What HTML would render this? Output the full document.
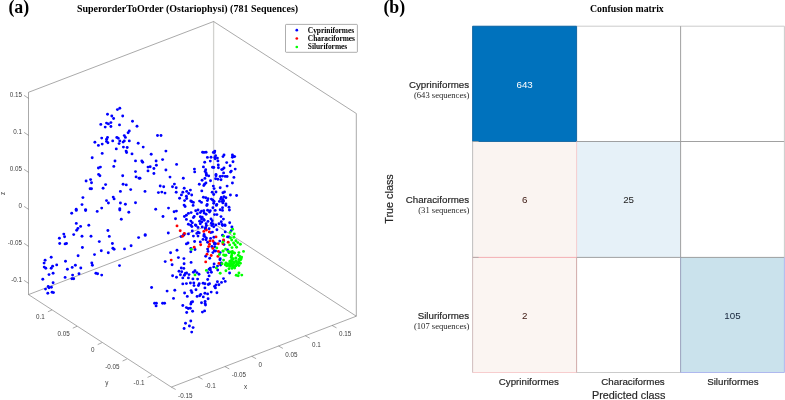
<!DOCTYPE html>
<html><head><meta charset="utf-8"><title>Figure</title>
<style>html,body{margin:0;padding:0;background:#fff}svg{display:block}.sans{font-family:"Liberation Sans",Arial,Helvetica,sans-serif}.serif{font-family:"Liberation Serif","Times New Roman",serif}.tk{font-size:6.3px;fill:#404040}.hv{stroke:#262626;stroke-width:0.18px}.b{font-weight:bold}</style></head><body>
<svg width="785" height="400" viewBox="0 0 785 400">
<rect width="785" height="400" fill="#fff"/>
<line x1="213.6" y1="21.5" x2="213.6" y2="223.5" stroke="#d2d2cf" stroke-width="1.3"/>
<line x1="28.5" y1="294.6" x2="213.6" y2="223.5" stroke="#555" stroke-width="0.5"/>
<line x1="213.6" y1="223.5" x2="356.3" y2="316.2" stroke="#555" stroke-width="0.5"/>
<line x1="28.5" y1="92.3" x2="213.6" y2="21.5" stroke="#555" stroke-width="0.5"/>
<line x1="213.6" y1="21.5" x2="356.3" y2="113.5" stroke="#555" stroke-width="0.5"/>
<line x1="28.5" y1="92.3" x2="28.5" y2="294.6" stroke="#555" stroke-width="0.5"/>
<line x1="356.3" y1="113.5" x2="356.3" y2="316.2" stroke="#555" stroke-width="0.5"/>
<line x1="28.5" y1="294.6" x2="171.3" y2="387.1" stroke="#555" stroke-width="0.5"/>
<line x1="171.3" y1="387.1" x2="356.3" y2="316.2" stroke="#555" stroke-width="0.5"/>
<line x1="28.5" y1="98.3" x2="24.1" y2="95.39999999999999" stroke="#555" stroke-width="0.5"/>
<text class="sans tk" x="22.1" y="96.9" text-anchor="end">0.15</text>
<line x1="28.5" y1="135.3" x2="24.1" y2="132.4" stroke="#555" stroke-width="0.5"/>
<text class="sans tk" x="22.1" y="133.9" text-anchor="end">0.1</text>
<line x1="28.5" y1="172.3" x2="24.1" y2="169.4" stroke="#555" stroke-width="0.5"/>
<text class="sans tk" x="22.1" y="170.9" text-anchor="end">0.05</text>
<line x1="28.5" y1="209.3" x2="24.1" y2="206.4" stroke="#555" stroke-width="0.5"/>
<text class="sans tk" x="22.1" y="207.9" text-anchor="end">0</text>
<line x1="28.5" y1="246.3" x2="24.1" y2="243.4" stroke="#555" stroke-width="0.5"/>
<text class="sans tk" x="22.1" y="244.9" text-anchor="end">-0.05</text>
<line x1="28.5" y1="283.3" x2="24.1" y2="280.40000000000003" stroke="#555" stroke-width="0.5"/>
<text class="sans tk" x="22.1" y="281.9" text-anchor="end">-0.1</text>
<text class="sans tk" transform="translate(4.5,193.5) rotate(-90)" text-anchor="middle">z</text>
<line x1="52.1" y1="309.9" x2="47.9" y2="311.79999999999995" stroke="#555" stroke-width="0.5"/>
<text class="sans tk" x="44.8" y="319.4" text-anchor="end">0.1</text>
<line x1="77.0" y1="326.29999999999995" x2="72.8" y2="328.19999999999993" stroke="#555" stroke-width="0.5"/>
<text class="sans tk" x="69.7" y="335.8" text-anchor="end">0.05</text>
<line x1="101.9" y1="342.7" x2="97.7" y2="344.59999999999997" stroke="#555" stroke-width="0.5"/>
<text class="sans tk" x="94.6" y="352.2" text-anchor="end">0</text>
<line x1="126.79999999999998" y1="359.09999999999997" x2="122.59999999999998" y2="360.99999999999994" stroke="#555" stroke-width="0.5"/>
<text class="sans tk" x="119.5" y="368.6" text-anchor="end">-0.05</text>
<line x1="151.7" y1="375.5" x2="147.5" y2="377.4" stroke="#555" stroke-width="0.5"/>
<text class="sans tk" x="144.4" y="385.0" text-anchor="end">-0.1</text>
<text class="sans tk" x="106.8" y="384.5" text-anchor="middle">y</text>
<line x1="171.3" y1="387.1" x2="175.70000000000002" y2="389.5" stroke="#555" stroke-width="0.5"/>
<text class="sans tk" x="178.1" y="397.9">-0.15</text>
<line x1="198.10000000000002" y1="376.83000000000004" x2="202.50000000000003" y2="379.23" stroke="#555" stroke-width="0.5"/>
<text class="sans tk" x="204.9" y="387.6">-0.1</text>
<line x1="224.9" y1="366.56" x2="229.3" y2="368.96" stroke="#555" stroke-width="0.5"/>
<text class="sans tk" x="231.7" y="377.4">-0.05</text>
<line x1="251.70000000000002" y1="356.29" x2="256.1" y2="358.69" stroke="#555" stroke-width="0.5"/>
<text class="sans tk" x="258.5" y="367.1">0</text>
<line x1="278.5" y1="346.02000000000004" x2="282.9" y2="348.42" stroke="#555" stroke-width="0.5"/>
<text class="sans tk" x="285.3" y="356.8">0.05</text>
<line x1="305.3" y1="335.75" x2="309.7" y2="338.15" stroke="#555" stroke-width="0.5"/>
<text class="sans tk" x="312.1" y="346.6">0.1</text>
<line x1="332.1" y1="325.48" x2="336.5" y2="327.88" stroke="#555" stroke-width="0.5"/>
<text class="sans tk" x="338.9" y="336.3">0.15</text>
<text class="sans tk" x="245.6" y="389.4" text-anchor="middle">x</text>
<g fill="#0000ff"><circle cx="117.4" cy="109.6" r="1.45"/><circle cx="119.8" cy="108.3" r="1.45"/><circle cx="107.5" cy="114.2" r="1.45"/><circle cx="111.8" cy="116.0" r="1.45"/><circle cx="113.6" cy="118.5" r="1.45"/><circle cx="122.7" cy="116.0" r="1.45"/><circle cx="132.5" cy="121.2" r="1.45"/><circle cx="137.0" cy="126.2" r="1.45"/><circle cx="100.8" cy="124.4" r="1.45"/><circle cx="106.5" cy="123.1" r="1.45"/><circle cx="108.4" cy="123.9" r="1.45"/><circle cx="110.9" cy="122.6" r="1.45"/><circle cx="105.2" cy="127.1" r="1.45"/><circle cx="110.9" cy="126.5" r="1.45"/><circle cx="119.5" cy="124.9" r="1.45"/><circle cx="129.3" cy="131.0" r="1.45"/><circle cx="128.1" cy="132.8" r="1.45"/><circle cx="124.3" cy="135.6" r="1.45"/><circle cx="125.4" cy="137.4" r="1.45"/><circle cx="116.8" cy="137.4" r="1.45"/><circle cx="118.2" cy="138.3" r="1.45"/><circle cx="107.5" cy="137.4" r="1.45"/><circle cx="101.7" cy="138.1" r="1.45"/><circle cx="106.6" cy="139.2" r="1.45"/><circle cx="94.9" cy="142.3" r="1.45"/><circle cx="98.4" cy="145.4" r="1.45"/><circle cx="102.2" cy="144.1" r="1.45"/><circle cx="106.5" cy="141.4" r="1.45"/><circle cx="107.9" cy="142.7" r="1.45"/><circle cx="112.7" cy="140.9" r="1.45"/><circle cx="119.1" cy="143.6" r="1.45"/><circle cx="119.8" cy="140.9" r="1.45"/><circle cx="123.1" cy="142.1" r="1.45"/><circle cx="124.3" cy="140.9" r="1.45"/><circle cx="129.3" cy="140.9" r="1.45"/><circle cx="138.2" cy="143.2" r="1.45"/><circle cx="116.3" cy="148.9" r="1.45"/><circle cx="123.4" cy="147.1" r="1.45"/><circle cx="127.2" cy="147.5" r="1.45"/><circle cx="126.1" cy="151.1" r="1.45"/><circle cx="126.6" cy="152.5" r="1.45"/><circle cx="132.0" cy="153.9" r="1.45"/><circle cx="102.2" cy="153.4" r="1.45"/><circle cx="92.2" cy="157.8" r="1.45"/><circle cx="115.0" cy="161.0" r="1.45"/><circle cx="135.5" cy="160.9" r="1.45"/><circle cx="113.8" cy="166.4" r="1.45"/><circle cx="98.4" cy="168.0" r="1.45"/><circle cx="100.4" cy="167.1" r="1.45"/><circle cx="135.5" cy="171.6" r="1.45"/><circle cx="98.6" cy="174.4" r="1.45"/><circle cx="99.9" cy="175.7" r="1.45"/><circle cx="122.7" cy="175.7" r="1.45"/><circle cx="136.1" cy="176.9" r="1.45"/><circle cx="139.1" cy="178.3" r="1.45"/><circle cx="86.1" cy="181.0" r="1.45"/><circle cx="90.6" cy="179.6" r="1.45"/><circle cx="91.5" cy="182.8" r="1.45"/><circle cx="105.6" cy="184.6" r="1.45"/><circle cx="123.1" cy="184.2" r="1.45"/><circle cx="126.3" cy="184.9" r="1.45"/><circle cx="90.1" cy="188.7" r="1.45"/><circle cx="91.5" cy="188.7" r="1.45"/><circle cx="103.1" cy="188.2" r="1.45"/><circle cx="130.7" cy="189.6" r="1.45"/><circle cx="120.4" cy="191.4" r="1.45"/><circle cx="82.9" cy="197.6" r="1.45"/><circle cx="113.2" cy="197.1" r="1.45"/><circle cx="114.1" cy="198.9" r="1.45"/><circle cx="106.5" cy="200.6" r="1.45"/><circle cx="108.4" cy="203.0" r="1.45"/><circle cx="120.4" cy="203.0" r="1.45"/><circle cx="125.4" cy="204.2" r="1.45"/><circle cx="135.5" cy="202.8" r="1.45"/><circle cx="82.0" cy="204.6" r="1.45"/><circle cx="76.2" cy="209.2" r="1.45"/><circle cx="85.6" cy="209.6" r="1.45"/><circle cx="101.7" cy="208.1" r="1.45"/><circle cx="119.8" cy="208.7" r="1.45"/><circle cx="71.7" cy="213.2" r="1.45"/><circle cx="76.3" cy="210.4" r="1.45"/><circle cx="85.6" cy="210.5" r="1.45"/><circle cx="97.2" cy="211.4" r="1.45"/><circle cx="119.8" cy="210.0" r="1.45"/><circle cx="128.8" cy="212.3" r="1.45"/><circle cx="121.3" cy="219.3" r="1.45"/><circle cx="76.3" cy="223.4" r="1.45"/><circle cx="80.6" cy="226.4" r="1.45"/><circle cx="88.8" cy="225.2" r="1.45"/><circle cx="77.9" cy="228.4" r="1.45"/><circle cx="76.7" cy="230.2" r="1.45"/><circle cx="107.9" cy="230.5" r="1.45"/><circle cx="63.8" cy="234.1" r="1.45"/><circle cx="64.6" cy="236.8" r="1.45"/><circle cx="73.7" cy="234.6" r="1.45"/><circle cx="82.0" cy="236.2" r="1.45"/><circle cx="91.0" cy="236.2" r="1.45"/><circle cx="109.3" cy="236.4" r="1.45"/><circle cx="59.4" cy="238.2" r="1.45"/><circle cx="138.6" cy="237.6" r="1.45"/><circle cx="59.7" cy="243.5" r="1.45"/><circle cx="65.1" cy="243.9" r="1.45"/><circle cx="66.5" cy="243.5" r="1.45"/><circle cx="99.3" cy="241.6" r="1.45"/><circle cx="112.4" cy="243.5" r="1.45"/><circle cx="82.4" cy="247.5" r="1.45"/><circle cx="131.1" cy="245.7" r="1.45"/><circle cx="112.9" cy="248.3" r="1.45"/><circle cx="114.1" cy="249.2" r="1.45"/><circle cx="124.5" cy="248.9" r="1.45"/><circle cx="101.3" cy="250.7" r="1.45"/><circle cx="108.3" cy="252.8" r="1.45"/><circle cx="94.5" cy="254.6" r="1.45"/><circle cx="78.1" cy="255.8" r="1.45"/><circle cx="51.2" cy="257.3" r="1.45"/><circle cx="45.1" cy="260.3" r="1.45"/><circle cx="44.1" cy="263.1" r="1.45"/><circle cx="65.5" cy="261.2" r="1.45"/><circle cx="56.7" cy="264.9" r="1.45"/><circle cx="75.4" cy="265.3" r="1.45"/><circle cx="91.8" cy="263.0" r="1.45"/><circle cx="92.4" cy="265.3" r="1.45"/><circle cx="119.5" cy="265.6" r="1.45"/><circle cx="52.6" cy="266.2" r="1.45"/><circle cx="51.2" cy="268.3" r="1.45"/><circle cx="44.2" cy="267.1" r="1.45"/><circle cx="45.8" cy="268.3" r="1.45"/><circle cx="72.2" cy="267.4" r="1.45"/><circle cx="67.4" cy="269.2" r="1.45"/><circle cx="80.8" cy="268.0" r="1.45"/><circle cx="49.0" cy="274.6" r="1.45"/><circle cx="53.1" cy="273.3" r="1.45"/><circle cx="72.6" cy="275.1" r="1.45"/><circle cx="79.0" cy="273.8" r="1.45"/><circle cx="95.9" cy="273.3" r="1.45"/><circle cx="97.6" cy="273.8" r="1.45"/><circle cx="101.7" cy="275.1" r="1.45"/><circle cx="65.1" cy="277.4" r="1.45"/><circle cx="42.8" cy="279.2" r="1.45"/><circle cx="71.9" cy="278.7" r="1.45"/><circle cx="73.7" cy="278.7" r="1.45"/><circle cx="53.1" cy="282.8" r="1.45"/><circle cx="45.5" cy="289.1" r="1.45"/><circle cx="48.2" cy="286.4" r="1.45"/><circle cx="49.0" cy="287.8" r="1.45"/><circle cx="51.4" cy="287.3" r="1.45"/><circle cx="47.8" cy="293.2" r="1.45"/><circle cx="52.1" cy="292.3" r="1.45"/><circle cx="53.5" cy="292.6" r="1.45"/><circle cx="157.5" cy="135.5" r="1.45"/><circle cx="161.0" cy="135.5" r="1.45"/><circle cx="143.2" cy="147.1" r="1.45"/><circle cx="151.2" cy="154.3" r="1.45"/><circle cx="165.9" cy="151.1" r="1.45"/><circle cx="141.8" cy="161.0" r="1.45"/><circle cx="142.7" cy="162.3" r="1.45"/><circle cx="156.1" cy="161.0" r="1.45"/><circle cx="162.6" cy="159.6" r="1.45"/><circle cx="156.4" cy="165.3" r="1.45"/><circle cx="176.6" cy="164.4" r="1.45"/><circle cx="148.0" cy="167.1" r="1.45"/><circle cx="150.2" cy="166.8" r="1.45"/><circle cx="153.9" cy="168.5" r="1.45"/><circle cx="148.0" cy="170.9" r="1.45"/><circle cx="165.9" cy="170.0" r="1.45"/><circle cx="153.9" cy="173.5" r="1.45"/><circle cx="140.0" cy="178.3" r="1.45"/><circle cx="170.0" cy="177.1" r="1.45"/><circle cx="183.3" cy="178.3" r="1.45"/><circle cx="160.2" cy="186.0" r="1.45"/><circle cx="163.7" cy="186.7" r="1.45"/><circle cx="174.4" cy="184.1" r="1.45"/><circle cx="172.5" cy="186.7" r="1.45"/><circle cx="176.2" cy="187.8" r="1.45"/><circle cx="145.0" cy="191.4" r="1.45"/><circle cx="158.4" cy="192.6" r="1.45"/><circle cx="161.8" cy="192.1" r="1.45"/><circle cx="165.0" cy="193.1" r="1.45"/><circle cx="176.2" cy="192.3" r="1.45"/><circle cx="184.2" cy="188.2" r="1.45"/><circle cx="182.8" cy="192.3" r="1.45"/><circle cx="186.7" cy="191.4" r="1.45"/><circle cx="188.7" cy="193.5" r="1.45"/><circle cx="181.4" cy="194.9" r="1.45"/><circle cx="186.4" cy="196.2" r="1.45"/><circle cx="179.6" cy="198.3" r="1.45"/><circle cx="186.7" cy="198.5" r="1.45"/><circle cx="184.6" cy="200.6" r="1.45"/><circle cx="184.1" cy="205.1" r="1.45"/><circle cx="185.1" cy="206.5" r="1.45"/><circle cx="168.5" cy="208.1" r="1.45"/><circle cx="155.7" cy="209.2" r="1.45"/><circle cx="202.6" cy="152.3" r="1.45"/><circle cx="204.1" cy="152.4" r="1.45"/><circle cx="206.1" cy="152.3" r="1.45"/><circle cx="213.3" cy="152.4" r="1.45"/><circle cx="214.8" cy="151.1" r="1.45"/><circle cx="214.5" cy="152.6" r="1.45"/><circle cx="224.0" cy="154.9" r="1.45"/><circle cx="223.0" cy="156.6" r="1.45"/><circle cx="232.4" cy="154.9" r="1.45"/><circle cx="233.6" cy="156.5" r="1.45"/><circle cx="232.4" cy="157.2" r="1.45"/><circle cx="234.7" cy="156.6" r="1.45"/><circle cx="207.4" cy="157.4" r="1.45"/><circle cx="211.0" cy="157.2" r="1.45"/><circle cx="215.6" cy="155.7" r="1.45"/><circle cx="214.8" cy="157.4" r="1.45"/><circle cx="215.2" cy="158.8" r="1.45"/><circle cx="217.4" cy="158.1" r="1.45"/><circle cx="217.9" cy="160.9" r="1.45"/><circle cx="210.3" cy="161.1" r="1.45"/><circle cx="204.7" cy="162.2" r="1.45"/><circle cx="226.7" cy="162.6" r="1.45"/><circle cx="233.0" cy="161.8" r="1.45"/><circle cx="218.3" cy="165.0" r="1.45"/><circle cx="230.1" cy="165.8" r="1.45"/><circle cx="203.4" cy="166.9" r="1.45"/><circle cx="212.5" cy="167.2" r="1.45"/><circle cx="213.8" cy="167.5" r="1.45"/><circle cx="218.4" cy="167.8" r="1.45"/><circle cx="224.0" cy="167.9" r="1.45"/><circle cx="222.9" cy="169.1" r="1.45"/><circle cx="221.7" cy="169.6" r="1.45"/><circle cx="235.2" cy="169.1" r="1.45"/><circle cx="194.4" cy="169.1" r="1.45"/><circle cx="194.7" cy="171.9" r="1.45"/><circle cx="205.7" cy="169.8" r="1.45"/><circle cx="205.1" cy="171.4" r="1.45"/><circle cx="206.1" cy="172.9" r="1.45"/><circle cx="231.3" cy="171.1" r="1.45"/><circle cx="230.5" cy="172.1" r="1.45"/><circle cx="223.6" cy="172.9" r="1.45"/><circle cx="216.0" cy="174.4" r="1.45"/><circle cx="206.4" cy="174.4" r="1.45"/><circle cx="206.4" cy="175.4" r="1.45"/><circle cx="208.7" cy="175.9" r="1.45"/><circle cx="216.0" cy="175.8" r="1.45"/><circle cx="220.2" cy="176.5" r="1.45"/><circle cx="222.5" cy="176.1" r="1.45"/><circle cx="225.2" cy="176.4" r="1.45"/><circle cx="227.1" cy="176.5" r="1.45"/><circle cx="233.9" cy="177.4" r="1.45"/><circle cx="204.9" cy="178.4" r="1.45"/><circle cx="202.1" cy="180.2" r="1.45"/><circle cx="210.5" cy="180.7" r="1.45"/><circle cx="215.6" cy="178.7" r="1.45"/><circle cx="217.9" cy="179.2" r="1.45"/><circle cx="221.0" cy="179.7" r="1.45"/><circle cx="232.4" cy="183.0" r="1.45"/><circle cx="199.3" cy="184.2" r="1.45"/><circle cx="205.9" cy="183.0" r="1.45"/><circle cx="204.5" cy="184.3" r="1.45"/><circle cx="203.8" cy="185.5" r="1.45"/><circle cx="213.3" cy="186.1" r="1.45"/><circle cx="214.1" cy="188.6" r="1.45"/><circle cx="220.2" cy="187.8" r="1.45"/><circle cx="227.1" cy="186.1" r="1.45"/><circle cx="190.4" cy="190.1" r="1.45"/><circle cx="201.8" cy="190.9" r="1.45"/><circle cx="212.2" cy="192.2" r="1.45"/><circle cx="216.0" cy="192.0" r="1.45"/><circle cx="222.9" cy="192.7" r="1.45"/><circle cx="224.5" cy="192.0" r="1.45"/><circle cx="213.7" cy="194.5" r="1.45"/><circle cx="191.7" cy="195.0" r="1.45"/><circle cx="230.4" cy="195.0" r="1.45"/><circle cx="236.6" cy="195.5" r="1.45"/><circle cx="203.4" cy="197.3" r="1.45"/><circle cx="205.7" cy="197.8" r="1.45"/><circle cx="208.0" cy="198.8" r="1.45"/><circle cx="207.4" cy="200.6" r="1.45"/><circle cx="211.4" cy="199.1" r="1.45"/><circle cx="212.9" cy="200.2" r="1.45"/><circle cx="214.1" cy="201.4" r="1.45"/><circle cx="221.3" cy="197.5" r="1.45"/><circle cx="224.0" cy="196.8" r="1.45"/><circle cx="225.9" cy="197.8" r="1.45"/><circle cx="220.6" cy="199.1" r="1.45"/><circle cx="222.9" cy="199.5" r="1.45"/><circle cx="219.4" cy="201.4" r="1.45"/><circle cx="222.1" cy="201.4" r="1.45"/><circle cx="223.6" cy="201.0" r="1.45"/><circle cx="222.9" cy="202.9" r="1.45"/><circle cx="199.6" cy="201.1" r="1.45"/><circle cx="201.5" cy="202.4" r="1.45"/><circle cx="191.9" cy="201.8" r="1.45"/><circle cx="193.4" cy="202.4" r="1.45"/><circle cx="190.8" cy="201.0" r="1.45"/><circle cx="207.2" cy="204.4" r="1.45"/><circle cx="216.8" cy="204.4" r="1.45"/><circle cx="225.9" cy="203.9" r="1.45"/><circle cx="213.7" cy="203.3" r="1.45"/><circle cx="193.1" cy="205.4" r="1.45"/><circle cx="206.8" cy="205.6" r="1.45"/><circle cx="216.4" cy="205.4" r="1.45"/><circle cx="225.9" cy="205.4" r="1.45"/><circle cx="212.9" cy="207.7" r="1.45"/><circle cx="222.5" cy="207.7" r="1.45"/><circle cx="229.0" cy="207.3" r="1.45"/><circle cx="229.4" cy="210.0" r="1.45"/><circle cx="220.2" cy="209.7" r="1.45"/><circle cx="222.5" cy="210.4" r="1.45"/><circle cx="215.2" cy="210.4" r="1.45"/><circle cx="195.7" cy="210.7" r="1.45"/><circle cx="198.0" cy="210.0" r="1.45"/><circle cx="201.5" cy="211.1" r="1.45"/><circle cx="203.8" cy="210.7" r="1.45"/><circle cx="207.6" cy="210.2" r="1.45"/><circle cx="210.3" cy="210.7" r="1.45"/><circle cx="209.5" cy="212.0" r="1.45"/><circle cx="191.1" cy="212.6" r="1.45"/><circle cx="200.3" cy="212.6" r="1.45"/><circle cx="197.3" cy="213.8" r="1.45"/><circle cx="204.1" cy="213.0" r="1.45"/><circle cx="206.1" cy="214.3" r="1.45"/><circle cx="214.5" cy="214.6" r="1.45"/><circle cx="216.9" cy="214.6" r="1.45"/><circle cx="194.2" cy="216.5" r="1.45"/><circle cx="193.4" cy="217.6" r="1.45"/><circle cx="200.3" cy="216.8" r="1.45"/><circle cx="202.2" cy="217.2" r="1.45"/><circle cx="221.0" cy="216.6" r="1.45"/><circle cx="201.5" cy="219.1" r="1.45"/><circle cx="203.8" cy="219.5" r="1.45"/><circle cx="211.0" cy="218.9" r="1.45"/><circle cx="223.4" cy="219.1" r="1.45"/><circle cx="190.8" cy="221.1" r="1.45"/><circle cx="199.6" cy="221.2" r="1.45"/><circle cx="201.8" cy="222.0" r="1.45"/><circle cx="204.1" cy="220.3" r="1.45"/><circle cx="208.0" cy="221.4" r="1.45"/><circle cx="212.2" cy="220.7" r="1.45"/><circle cx="221.3" cy="221.8" r="1.45"/><circle cx="229.7" cy="222.7" r="1.45"/><circle cx="206.1" cy="223.7" r="1.45"/><circle cx="211.4" cy="223.3" r="1.45"/><circle cx="212.9" cy="224.0" r="1.45"/><circle cx="219.0" cy="223.7" r="1.45"/><circle cx="222.1" cy="224.5" r="1.45"/><circle cx="224.8" cy="225.0" r="1.45"/><circle cx="195.4" cy="225.0" r="1.45"/><circle cx="200.3" cy="223.7" r="1.45"/><circle cx="192.3" cy="222.7" r="1.45"/><circle cx="190.8" cy="225.3" r="1.45"/><circle cx="191.9" cy="226.6" r="1.45"/><circle cx="215.8" cy="225.0" r="1.45"/><circle cx="213.7" cy="226.8" r="1.45"/><circle cx="206.4" cy="225.6" r="1.45"/><circle cx="202.2" cy="227.0" r="1.45"/><circle cx="198.0" cy="227.5" r="1.45"/><circle cx="205.7" cy="227.8" r="1.45"/><circle cx="231.9" cy="227.0" r="1.45"/><circle cx="209.1" cy="228.8" r="1.45"/><circle cx="216.9" cy="229.8" r="1.45"/><circle cx="192.3" cy="231.0" r="1.45"/><circle cx="212.5" cy="232.1" r="1.45"/><circle cx="225.2" cy="231.9" r="1.45"/><circle cx="231.3" cy="230.6" r="1.45"/><circle cx="198.0" cy="232.1" r="1.45"/><circle cx="199.2" cy="232.9" r="1.45"/><circle cx="193.4" cy="236.1" r="1.45"/><circle cx="198.0" cy="236.1" r="1.45"/><circle cx="203.8" cy="236.1" r="1.45"/><circle cx="206.4" cy="238.1" r="1.45"/><circle cx="203.0" cy="239.4" r="1.45"/><circle cx="210.6" cy="238.4" r="1.45"/><circle cx="194.6" cy="241.5" r="1.45"/><circle cx="200.3" cy="241.9" r="1.45"/><circle cx="207.6" cy="242.3" r="1.45"/><circle cx="214.1" cy="242.6" r="1.45"/><circle cx="215.6" cy="243.8" r="1.45"/><circle cx="219.8" cy="241.1" r="1.45"/><circle cx="223.6" cy="240.7" r="1.45"/><circle cx="227.5" cy="236.9" r="1.45"/><circle cx="224.0" cy="244.6" r="1.45"/><circle cx="211.8" cy="246.5" r="1.45"/><circle cx="214.8" cy="246.8" r="1.45"/><circle cx="190.8" cy="248.4" r="1.45"/><circle cx="195.0" cy="249.5" r="1.45"/><circle cx="190.8" cy="251.8" r="1.45"/><circle cx="207.6" cy="249.1" r="1.45"/><circle cx="208.0" cy="251.4" r="1.45"/><circle cx="212.9" cy="252.6" r="1.45"/><circle cx="215.6" cy="251.1" r="1.45"/><circle cx="220.2" cy="252.6" r="1.45"/><circle cx="227.5" cy="249.9" r="1.45"/><circle cx="205.7" cy="256.2" r="1.45"/><circle cx="209.7" cy="258.3" r="1.45"/><circle cx="220.2" cy="258.7" r="1.45"/><circle cx="191.1" cy="262.4" r="1.45"/><circle cx="214.1" cy="263.9" r="1.45"/><circle cx="221.3" cy="262.9" r="1.45"/><circle cx="229.0" cy="252.6" r="1.45"/><circle cx="213.7" cy="266.9" r="1.45"/><circle cx="217.5" cy="266.1" r="1.45"/><circle cx="220.6" cy="265.0" r="1.45"/><circle cx="210.3" cy="268.1" r="1.45"/><circle cx="209.1" cy="269.2" r="1.45"/><circle cx="211.4" cy="272.3" r="1.45"/><circle cx="208.0" cy="272.6" r="1.45"/><circle cx="217.7" cy="270.0" r="1.45"/><circle cx="195.0" cy="270.7" r="1.45"/><circle cx="193.4" cy="272.3" r="1.45"/><circle cx="196.9" cy="272.6" r="1.45"/><circle cx="199.0" cy="274.3" r="1.45"/><circle cx="209.1" cy="275.9" r="1.45"/><circle cx="229.6" cy="273.0" r="1.45"/><circle cx="192.9" cy="278.9" r="1.45"/><circle cx="197.6" cy="279.1" r="1.45"/><circle cx="207.7" cy="279.5" r="1.45"/><circle cx="223.5" cy="278.6" r="1.45"/><circle cx="190.4" cy="283.0" r="1.45"/><circle cx="193.8" cy="283.0" r="1.45"/><circle cx="199.2" cy="283.7" r="1.45"/><circle cx="198.4" cy="285.5" r="1.45"/><circle cx="194.0" cy="285.6" r="1.45"/><circle cx="203.1" cy="283.2" r="1.45"/><circle cx="204.9" cy="283.7" r="1.45"/><circle cx="209.5" cy="283.7" r="1.45"/><circle cx="208.3" cy="284.5" r="1.45"/><circle cx="217.4" cy="281.7" r="1.45"/><circle cx="221.5" cy="282.4" r="1.45"/><circle cx="225.2" cy="281.4" r="1.45"/><circle cx="218.9" cy="284.7" r="1.45"/><circle cx="216.0" cy="285.0" r="1.45"/><circle cx="214.5" cy="286.4" r="1.45"/><circle cx="215.4" cy="287.9" r="1.45"/><circle cx="204.9" cy="287.9" r="1.45"/><circle cx="196.0" cy="289.8" r="1.45"/><circle cx="191.1" cy="290.6" r="1.45"/><circle cx="191.9" cy="292.5" r="1.45"/><circle cx="211.2" cy="292.1" r="1.45"/><circle cx="216.9" cy="292.7" r="1.45"/><circle cx="204.9" cy="293.3" r="1.45"/><circle cx="207.6" cy="293.9" r="1.45"/><circle cx="200.7" cy="294.4" r="1.45"/><circle cx="151.6" cy="287.5" r="1.45"/><circle cx="167.1" cy="291.1" r="1.45"/><circle cx="174.8" cy="290.2" r="1.45"/><circle cx="173.5" cy="298.4" r="1.45"/><circle cx="154.6" cy="303.2" r="1.45"/><circle cx="156.4" cy="303.2" r="1.45"/><circle cx="156.1" cy="305.9" r="1.45"/><circle cx="162.6" cy="303.2" r="1.45"/><circle cx="164.6" cy="303.2" r="1.45"/><circle cx="182.8" cy="283.9" r="1.45"/><circle cx="186.4" cy="283.6" r="1.45"/><circle cx="184.6" cy="293.0" r="1.45"/><circle cx="187.3" cy="296.4" r="1.45"/><circle cx="182.8" cy="305.5" r="1.45"/><circle cx="186.4" cy="307.6" r="1.45"/><circle cx="188.2" cy="308.5" r="1.45"/><circle cx="186.7" cy="312.5" r="1.45"/><circle cx="185.5" cy="323.2" r="1.45"/><circle cx="189.4" cy="326.0" r="1.45"/><circle cx="184.1" cy="328.5" r="1.45"/><circle cx="197.1" cy="296.4" r="1.45"/><circle cx="199.7" cy="295.7" r="1.45"/><circle cx="203.3" cy="296.9" r="1.45"/><circle cx="208.1" cy="298.7" r="1.45"/><circle cx="191.4" cy="302.3" r="1.45"/><circle cx="192.6" cy="301.8" r="1.45"/><circle cx="190.8" cy="304.1" r="1.45"/><circle cx="201.5" cy="302.8" r="1.45"/><circle cx="205.1" cy="301.4" r="1.45"/><circle cx="205.1" cy="303.5" r="1.45"/><circle cx="205.5" cy="305.0" r="1.45"/><circle cx="190.3" cy="308.2" r="1.45"/><circle cx="192.6" cy="311.2" r="1.45"/><circle cx="202.4" cy="312.1" r="1.45"/><circle cx="204.6" cy="310.9" r="1.45"/><circle cx="190.8" cy="321.0" r="1.45"/><circle cx="193.1" cy="327.6" r="1.45"/><circle cx="191.7" cy="332.1" r="1.45"/><circle cx="174.1" cy="211.8" r="1.45"/><circle cx="176.4" cy="211.1" r="1.45"/><circle cx="163.0" cy="216.5" r="1.45"/><circle cx="175.5" cy="218.7" r="1.45"/><circle cx="168.3" cy="233.0" r="1.45"/><circle cx="145.2" cy="234.6" r="1.45"/><circle cx="188.4" cy="213.4" r="1.45"/><circle cx="186.4" cy="215.2" r="1.45"/><circle cx="184.4" cy="216.5" r="1.45"/><circle cx="186.4" cy="219.4" r="1.45"/><circle cx="188.4" cy="224.3" r="1.45"/><circle cx="188.4" cy="233.9" r="1.45"/><circle cx="183.9" cy="234.3" r="1.45"/><circle cx="145.2" cy="235.4" r="1.45"/><circle cx="181.0" cy="236.6" r="1.45"/><circle cx="183.9" cy="235.0" r="1.45"/><circle cx="186.4" cy="243.9" r="1.45"/><circle cx="188.0" cy="243.0" r="1.45"/><circle cx="177.0" cy="250.2" r="1.45"/><circle cx="170.6" cy="252.7" r="1.45"/><circle cx="178.4" cy="257.6" r="1.45"/><circle cx="183.9" cy="258.6" r="1.45"/><circle cx="165.2" cy="261.6" r="1.45"/><circle cx="172.1" cy="264.7" r="1.45"/><circle cx="184.1" cy="263.7" r="1.45"/><circle cx="181.3" cy="268.0" r="1.45"/><circle cx="183.8" cy="268.4" r="1.45"/><circle cx="179.0" cy="271.2" r="1.45"/><circle cx="181.7" cy="271.7" r="1.45"/><circle cx="185.3" cy="273.5" r="1.45"/><circle cx="186.6" cy="273.0" r="1.45"/><circle cx="180.4" cy="274.8" r="1.45"/><circle cx="184.4" cy="275.3" r="1.45"/><circle cx="189.0" cy="274.6" r="1.45"/><circle cx="172.6" cy="275.7" r="1.45"/><circle cx="176.5" cy="277.3" r="1.45"/><circle cx="182.8" cy="277.9" r="1.45"/><circle cx="188.4" cy="277.9" r="1.45"/><circle cx="196.0" cy="225.5" r="1.45"/><circle cx="205.2" cy="228.8" r="1.45"/><circle cx="196.8" cy="233.4" r="1.45"/><circle cx="204.1" cy="234.4" r="1.45"/><circle cx="204.9" cy="236.6" r="1.45"/><circle cx="206.0" cy="239.8" r="1.45"/><circle cx="213.9" cy="237.2" r="1.45"/><circle cx="210.8" cy="232.6" r="1.45"/><circle cx="211.8" cy="225.5" r="1.45"/><circle cx="222.5" cy="225.5" r="1.45"/><circle cx="225.1" cy="225.5" r="1.45"/><circle cx="222.5" cy="235.2" r="1.45"/><circle cx="228.9" cy="237.0" r="1.45"/><circle cx="214.4" cy="243.9" r="1.45"/><circle cx="214.3" cy="250.8" r="1.45"/><circle cx="219.9" cy="259.7" r="1.45"/><circle cx="210.4" cy="270.1" r="1.45"/></g>
<g fill="#ff0000"><circle cx="203.8" cy="231.4" r="1.45"/><circle cx="209.3" cy="231.9" r="1.45"/><circle cx="206.4" cy="230.1" r="1.45"/><circle cx="216.0" cy="236.9" r="1.45"/><circle cx="209.9" cy="241.0" r="1.45"/><circle cx="212.9" cy="241.0" r="1.45"/><circle cx="200.7" cy="244.8" r="1.45"/><circle cx="209.5" cy="244.2" r="1.45"/><circle cx="208.7" cy="246.6" r="1.45"/><circle cx="218.3" cy="243.8" r="1.45"/><circle cx="222.9" cy="243.8" r="1.45"/><circle cx="228.2" cy="242.3" r="1.45"/><circle cx="223.6" cy="240.0" r="1.45"/><circle cx="194.2" cy="247.2" r="1.45"/><circle cx="212.8" cy="248.4" r="1.45"/><circle cx="218.4" cy="251.4" r="1.45"/><circle cx="207.0" cy="254.3" r="1.45"/><circle cx="211.2" cy="255.5" r="1.45"/><circle cx="217.9" cy="256.4" r="1.45"/><circle cx="205.7" cy="261.9" r="1.45"/><circle cx="218.9" cy="263.4" r="1.45"/><circle cx="177.0" cy="225.9" r="1.45"/><circle cx="180.2" cy="230.8" r="1.45"/><circle cx="184.4" cy="233.4" r="1.45"/><circle cx="182.6" cy="236.3" r="1.45"/><circle cx="171.2" cy="260.1" r="1.45"/></g>
<g fill="#00ff00"><circle cx="232.6" cy="229.3" r="1.45"/><circle cx="230.1" cy="232.4" r="1.45"/><circle cx="234.3" cy="234.0" r="1.45"/><circle cx="191.4" cy="249.4" r="1.45"/><circle cx="222.9" cy="242.3" r="1.45"/><circle cx="216.8" cy="248.0" r="1.45"/><circle cx="223.6" cy="236.1" r="1.45"/><circle cx="230.5" cy="237.7" r="1.45"/><circle cx="233.9" cy="237.3" r="1.45"/><circle cx="231.7" cy="240.0" r="1.45"/><circle cx="235.9" cy="240.7" r="1.45"/><circle cx="233.6" cy="243.0" r="1.45"/><circle cx="229.7" cy="244.9" r="1.45"/><circle cx="235.1" cy="244.9" r="1.45"/><circle cx="237.8" cy="242.6" r="1.45"/><circle cx="240.4" cy="244.2" r="1.45"/><circle cx="236.6" cy="247.2" r="1.45"/><circle cx="232.0" cy="247.6" r="1.45"/><circle cx="225.5" cy="249.1" r="1.45"/><circle cx="222.9" cy="251.1" r="1.45"/><circle cx="228.2" cy="251.4" r="1.45"/><circle cx="232.4" cy="251.4" r="1.45"/><circle cx="234.3" cy="253.0" r="1.45"/><circle cx="238.9" cy="252.6" r="1.45"/><circle cx="243.5" cy="251.4" r="1.45"/><circle cx="223.6" cy="254.9" r="1.45"/><circle cx="225.9" cy="255.3" r="1.45"/><circle cx="219.4" cy="254.5" r="1.45"/><circle cx="231.7" cy="255.3" r="1.45"/><circle cx="238.2" cy="255.3" r="1.45"/><circle cx="231.3" cy="257.2" r="1.45"/><circle cx="240.4" cy="257.2" r="1.45"/><circle cx="235.9" cy="257.9" r="1.45"/><circle cx="238.9" cy="259.5" r="1.45"/><circle cx="241.2" cy="258.7" r="1.45"/><circle cx="223.6" cy="260.1" r="1.45"/><circle cx="231.7" cy="259.5" r="1.45"/><circle cx="235.9" cy="260.6" r="1.45"/><circle cx="230.5" cy="261.8" r="1.45"/><circle cx="234.3" cy="262.5" r="1.45"/><circle cx="238.9" cy="261.8" r="1.45"/><circle cx="225.9" cy="262.9" r="1.45"/><circle cx="222.1" cy="263.7" r="1.45"/><circle cx="228.2" cy="263.7" r="1.45"/><circle cx="240.4" cy="263.3" r="1.45"/><circle cx="237.0" cy="264.0" r="1.45"/><circle cx="232.8" cy="264.4" r="1.45"/><circle cx="216.4" cy="267.9" r="1.45"/><circle cx="206.4" cy="270.4" r="1.45"/><circle cx="195.0" cy="274.9" r="1.45"/><circle cx="220.2" cy="273.3" r="1.45"/><circle cx="225.9" cy="270.7" r="1.45"/><circle cx="229.0" cy="268.8" r="1.45"/><circle cx="226.7" cy="265.8" r="1.45"/><circle cx="229.7" cy="266.1" r="1.45"/><circle cx="232.8" cy="266.1" r="1.45"/><circle cx="235.9" cy="265.8" r="1.45"/><circle cx="238.9" cy="265.6" r="1.45"/><circle cx="232.0" cy="268.4" r="1.45"/><circle cx="234.7" cy="268.1" r="1.45"/><circle cx="236.2" cy="275.3" r="1.45"/><circle cx="238.9" cy="273.0" r="1.45"/><circle cx="241.8" cy="275.1" r="1.45"/><circle cx="238.2" cy="275.7" r="1.45"/><circle cx="232.4" cy="264.8" r="1.45"/><circle cx="230.4" cy="263.8" r="1.45"/><circle cx="233.9" cy="262.7" r="1.45"/><circle cx="236.5" cy="261.7" r="1.45"/><circle cx="231.4" cy="257.1" r="1.45"/><circle cx="233.4" cy="258.7" r="1.45"/><circle cx="231.9" cy="253.1" r="1.45"/><circle cx="229.9" cy="252.0" r="1.45"/><circle cx="234.5" cy="253.1" r="1.45"/><circle cx="240.6" cy="259.7" r="1.45"/><circle cx="239.6" cy="256.1" r="1.45"/><circle cx="237.5" cy="264.3" r="1.45"/><circle cx="233.9" cy="266.8" r="1.45"/><circle cx="230.4" cy="266.3" r="1.45"/><circle cx="225.3" cy="264.8" r="1.45"/><circle cx="227.8" cy="265.3" r="1.45"/><circle cx="224.8" cy="255.6" r="1.45"/><circle cx="223.2" cy="251.0" r="1.45"/><circle cx="238.5" cy="262.7" r="1.45"/><circle cx="241.6" cy="257.1" r="1.45"/><circle cx="235.5" cy="265.3" r="1.45"/><circle cx="232.4" cy="261.2" r="1.45"/><circle cx="229.9" cy="261.2" r="1.45"/><circle cx="232.4" cy="264.5" r="1.45"/><circle cx="230.4" cy="265.1" r="1.45"/><circle cx="228.3" cy="265.1" r="1.45"/><circle cx="233.9" cy="267.1" r="1.45"/><circle cx="231.4" cy="263.0" r="1.45"/><circle cx="236.5" cy="264.5" r="1.45"/></g>
<text class="serif b" x="8.4" y="12.6" font-size="17.9">(a)</text>
<text class="serif b" x="187.5" y="11.8" font-size="10" text-anchor="middle">SuperorderToOrder (Ostariophysi) (781 Sequences)</text>
<rect x="285.5" y="24.4" width="71.9" height="27.9" fill="#fff" stroke="#777" stroke-width="0.6" rx="0.8"/>
<circle cx="296.8" cy="30.2" r="1.35" fill="#0000ff"/><text class="serif b" x="307.8" y="32.5" font-size="7.4">Cypriniformes</text>
<circle cx="296.8" cy="38.5" r="1.35" fill="#ff0000"/><text class="serif b" x="307.8" y="40.8" font-size="7.4">Characiformes</text>
<circle cx="296.8" cy="47.0" r="1.35" fill="#00ff00"/><text class="serif b" x="307.8" y="49.3" font-size="7.4">Siluriformes</text>
<text class="serif b" x="383.4" y="12.6" font-size="17.8">(b)</text>
<text class="serif b" x="626.9" y="12.2" font-size="9.8" text-anchor="middle">Confusion matrix</text>
<rect x="472.6" y="26.2" width="104.0" height="115.3" fill="#0072bd"/>
<rect x="472.6" y="141.5" width="104.0" height="115.9" fill="#faf4f1"/>
<rect x="576.6" y="141.5" width="104.0" height="115.9" fill="#e6f1f8"/>
<rect x="472.6" y="257.4" width="104.0" height="115.1" fill="#fbf5f2"/>
<rect x="680.6" y="257.4" width="103.8" height="115.1" fill="#cae2ec"/>
<line x1="472.6" y1="26.2" x2="576.6" y2="26.2" stroke="#005a9a" stroke-width="0.85"/>
<line x1="576.6" y1="26.2" x2="680.6" y2="26.2" stroke="#c2c2c2" stroke-width="0.85"/>
<line x1="680.6" y1="26.2" x2="784.4" y2="26.2" stroke="#c2c2c2" stroke-width="0.85"/>
<line x1="472.6" y1="141.5" x2="576.6" y2="141.5" stroke="#005a9a" stroke-width="0.85"/>
<line x1="576.6" y1="141.5" x2="680.6" y2="141.5" stroke="#909090" stroke-width="0.85"/>
<line x1="680.6" y1="141.5" x2="784.4" y2="141.5" stroke="#909090" stroke-width="0.85"/>
<line x1="472.6" y1="257.4" x2="576.6" y2="257.4" stroke="#f2a0a6" stroke-width="0.85"/>
<line x1="576.6" y1="257.4" x2="680.6" y2="257.4" stroke="#909090" stroke-width="0.85"/>
<line x1="680.6" y1="257.4" x2="784.4" y2="257.4" stroke="#909090" stroke-width="0.85"/>
<line x1="472.6" y1="372.5" x2="576.6" y2="372.5" stroke="#f5c4c6" stroke-width="0.85"/>
<line x1="576.6" y1="372.5" x2="680.6" y2="372.5" stroke="#c2c2c2" stroke-width="0.85"/>
<line x1="680.6" y1="372.5" x2="784.4" y2="372.5" stroke="#a5adec" stroke-width="0.85"/>
<line x1="472.6" y1="26.2" x2="472.6" y2="141.5" stroke="#005a9a" stroke-width="0.85"/>
<line x1="472.6" y1="141.5" x2="472.6" y2="257.4" stroke="#b4b4b4" stroke-width="0.85"/>
<line x1="472.6" y1="257.4" x2="472.6" y2="372.5" stroke="#c8b4b4" stroke-width="0.85"/>
<line x1="576.6" y1="26.2" x2="576.6" y2="141.5" stroke="#005a9a" stroke-width="0.85"/>
<line x1="576.6" y1="141.5" x2="576.6" y2="257.4" stroke="#f5c4c6" stroke-width="0.85"/>
<line x1="576.6" y1="257.4" x2="576.6" y2="372.5" stroke="#c89c9c" stroke-width="0.85"/>
<line x1="680.6" y1="26.2" x2="680.6" y2="141.5" stroke="#909090" stroke-width="0.85"/>
<line x1="680.6" y1="141.5" x2="680.6" y2="257.4" stroke="#909090" stroke-width="0.85"/>
<line x1="680.6" y1="257.4" x2="680.6" y2="372.5" stroke="#8c94b4" stroke-width="0.85"/>
<line x1="784.4" y1="26.2" x2="784.4" y2="141.5" stroke="#c2c2c2" stroke-width="0.85"/>
<line x1="784.4" y1="141.5" x2="784.4" y2="257.4" stroke="#c2c2c2" stroke-width="0.85"/>
<line x1="784.4" y1="257.4" x2="784.4" y2="372.5" stroke="#a5adec" stroke-width="0.85"/>
<line x1="472.6" y1="141.5" x2="478.6" y2="141.5" stroke="#a8a8a8" stroke-width="0.85"/>
<line x1="472.6" y1="257.4" x2="478.6" y2="257.4" stroke="#a8a8a8" stroke-width="0.85"/>
<text class="sans" x="524.6" y="87.6" font-size="9.75" fill="#fff" text-anchor="middle">643</text>
<text class="sans" x="524.6" y="203.2" font-size="9.75" fill="#3a1610" text-anchor="middle">6</text>
<text class="sans" x="628.6" y="203.2" font-size="9.75" fill="#222" text-anchor="middle">25</text>
<text class="sans" x="524.6" y="318.8" font-size="9.75" fill="#3a1610" text-anchor="middle">2</text>
<text class="sans" x="732.5" y="318.8" font-size="9.75" fill="#16243a" text-anchor="middle">105</text>
<text class="sans hv" x="469.1" y="87.5" font-size="9.75" fill="#262626" text-anchor="end">Cypriniformes</text>
<text class="serif" x="469.4" y="97.5" font-size="8.57" fill="#262626" text-anchor="end">(643 sequences)</text>
<text class="sans hv" x="469.1" y="203.1" font-size="9.75" fill="#262626" text-anchor="end">Characiformes</text>
<text class="serif" x="469.4" y="213.1" font-size="8.57" fill="#262626" text-anchor="end">(31 sequences)</text>
<text class="sans hv" x="469.1" y="318.6" font-size="9.75" fill="#262626" text-anchor="end">Siluriformes</text>
<text class="serif" x="469.4" y="328.6" font-size="8.57" fill="#262626" text-anchor="end">(107 sequences)</text>
<text class="sans hv" x="528.8" y="385.2" font-size="9.75" fill="#262626" text-anchor="middle">Cypriniformes</text>
<text class="sans hv" x="633.0" y="385.2" font-size="9.75" fill="#262626" text-anchor="middle">Characiformes</text>
<text class="sans hv" x="732.9" y="385.2" font-size="9.75" fill="#262626" text-anchor="middle">Siluriformes</text>
<text class="sans hv" x="628.7" y="398.6" font-size="10.83" fill="#262626" text-anchor="middle">Predicted class</text>
<text class="sans hv" transform="translate(393.2,199) rotate(-90)" font-size="10.83" fill="#262626" text-anchor="middle">True class</text>
</svg>
</body></html>
